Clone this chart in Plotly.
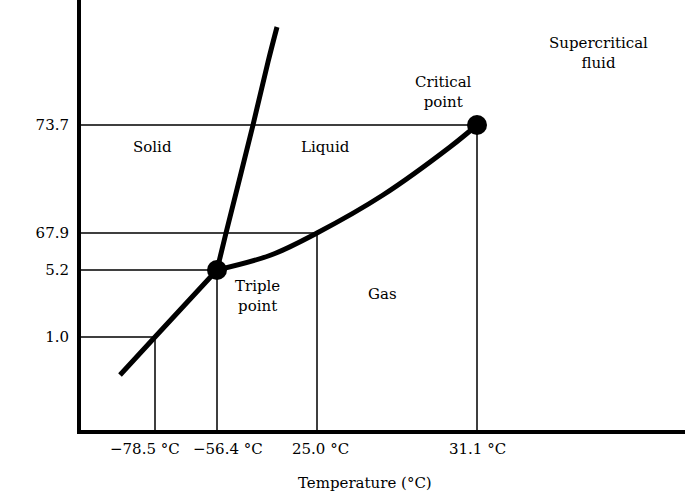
import plotly.graph_objects as go

# Schematic CO2 phase diagram (schematic units: not to scale)
temp_labels = ["\u221278.5 \u00b0C", "\u221256.4 \u00b0C", "25.0 \u00b0C", "31.1 \u00b0C"]
press_labels = ["1.0", "5.2", "67.9", "73.7"]
# schematic positions of the labelled state points
temp_pos = [74, 136, 236, 396]
press_pos = [93, 160, 197, 305]
temp_label_pos = [64, 147, 239, 396]

# phase boundaries (schematic units)
sub_x = [39, 74, 136]
sub_y = [55, 93, 160]
melt_x = [136, 145, 172, 187, 196]
melt_y = [160, 197, 305, 368, 403]
vap_x = [136, 190, 236, 302, 369, 396]
vap_y = [160, 175, 197, 235, 283, 305]

special_x = [136, 396]   # triple point, critical point
special_y = [160, 305]

regions = ["Solid", "Liquid", "Critical<br>point", "Supercritical<br>fluid", "Triple<br>point", "Gas"]
region_x = [71, 244, 362, 517, 176, 301]
region_y = [283, 283, 338, 377, 134, 136]

FONT = "DejaVu Serif"
FS = 15
fig = go.Figure()

# guide lines to axes
gx, gy = [], []
for x, y in zip(temp_pos, press_pos):
    gx += [0, x, x, None]
    gy += [y, y, 0, None]
fig.add_trace(go.Scatter(x=gx, y=gy, mode="lines", line=dict(color="black", width=1.5),
                         hoverinfo="skip", showlegend=False))

for xs, ys in [(sub_x, sub_y), (melt_x, melt_y), (vap_x, vap_y)]:
    fig.add_trace(go.Scatter(x=xs, y=ys, mode="lines",
                             line=dict(color="black", width=5, shape="spline", smoothing=1.0),
                             showlegend=False))

fig.add_trace(go.Scatter(x=special_x, y=special_y, mode="markers",
                         marker=dict(color="black", size=20), showlegend=False))

for t, x, y in zip(regions, region_x, region_y):
    fig.add_annotation(x=x, y=y, text=t, showarrow=False,
                       font=dict(family=FONT, size=FS, color="black"))

for t, x in zip(temp_labels, temp_label_pos):
    fig.add_annotation(x=x, y=0, yref="paper", yshift=-19, yanchor="middle", text=t, showarrow=False,
                       font=dict(family=FONT, size=FS, color="black"))

fig.add_annotation(x=284, y=0, yref="paper", yshift=-53, yanchor="middle", text="Temperature (\u00b0C)",
                   showarrow=False, font=dict(family=FONT, size=FS, color="black"))
fig.add_annotation(x=-71, y=226, text="Pressure (bar)", textangle=-90, showarrow=False,
                   font=dict(family=FONT, size=FS, color="black"))

fig.update_layout(
    width=685, height=494,
    margin=dict(l=81, r=0, t=0, b=64),
    paper_bgcolor="white", plot_bgcolor="white",
    xaxis=dict(range=[0, 604], showgrid=False, zeroline=False, showline=True,
               linecolor="black", linewidth=4, tickvals=temp_pos, showticklabels=False, ticks=""),
    yaxis=dict(range=[0, 430], showgrid=False, zeroline=False, showline=True,
               linecolor="black", linewidth=4, tickvals=press_pos, ticktext=press_labels,
               ticks="outside", ticklen=5, tickcolor="rgba(0,0,0,0)",
               tickfont=dict(family=FONT, size=FS, color="black")),
)

fig.write_html("out.html")
